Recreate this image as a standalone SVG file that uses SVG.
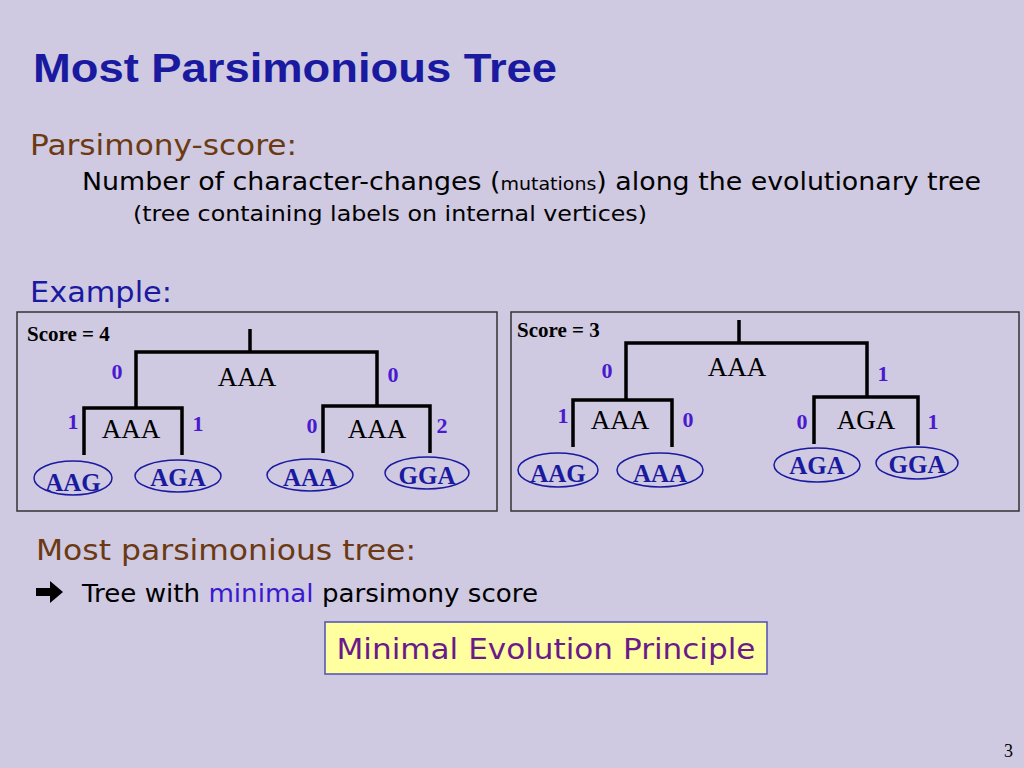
<svg xmlns="http://www.w3.org/2000/svg" width="1024" height="768" viewBox="0 0 1024 768">
<style>
.s{font-family:"DejaVu Sans","Liberation Sans",sans-serif}
.br{fill:#6b3a12;font-size:29px}
.e{fill:none;stroke:#1a1aa0;stroke-width:1.5}
.lf{font-family:"Liberation Serif",serif;font-weight:bold;font-size:25px;fill:#1a1aa0;text-anchor:middle}
.in{font-family:"Liberation Serif",serif;font-size:27px;fill:#000;text-anchor:middle}
.n{font-family:"Liberation Serif",serif;font-weight:bold;font-size:22px;fill:#4a1ad0;text-anchor:middle}
.t{fill:none;stroke:#000;stroke-width:3.5}
.bx{fill:none;stroke:#333;stroke-width:1.5}
</style>
<rect width="1024" height="768" fill="#cfc9e1"/>
<text x="33" y="82" font-family="Liberation Sans,sans-serif" font-weight="bold" font-size="40" fill="#1a1aa0" textLength="524" lengthAdjust="spacingAndGlyphs">Most Parsimonious Tree</text>
<text x="30" y="155" class="s br" textLength="267" lengthAdjust="spacingAndGlyphs">Parsimony-score:</text>
<text x="82" y="190" class="s" font-size="24" fill="#000" textLength="899" lengthAdjust="spacingAndGlyphs">Number of character-changes (<tspan font-size="17">mutations</tspan>) along the evolutionary tree</text>
<text x="133" y="221" class="s" font-size="21" fill="#000" textLength="514" lengthAdjust="spacingAndGlyphs">(tree containing labels on internal vertices)</text>
<text x="30" y="302" class="s" font-size="29" fill="#1a1aa0" textLength="142" lengthAdjust="spacingAndGlyphs">Example:</text>

<g id="tree1">
<rect x="17" y="312" width="480" height="199" class="bx"/>
<text x="27" y="341" font-family="Liberation Serif,serif" font-weight="bold" font-size="21">Score = 4</text>
<path class="t" d="M250 329V352M136 408V352H377V406M84 455V408H182V455M323 453V406H430V453"/>
<text x="117" y="379" class="n">0</text><text x="393" y="382" class="n">0</text>
<text x="73" y="429" class="n">1</text><text x="198" y="431" class="n">1</text>
<text x="312" y="433" class="n">0</text><text x="442" y="433" class="n">2</text>
<text x="247" y="386" class="in">AAA</text><text x="131" y="438" class="in">AAA</text><text x="377" y="438" class="in">AAA</text>
<ellipse cx="73" cy="478" rx="39" ry="17" class="e"/><text x="73" y="491" class="lf">AAG</text>
<ellipse cx="178" cy="476" rx="43" ry="16" class="e"/><text x="178" y="486" class="lf">AGA</text>
<ellipse cx="310" cy="475" rx="43" ry="16" class="e"/><text x="310" y="486" class="lf">AAA</text>
<ellipse cx="427" cy="473" rx="42" ry="16" class="e"/><text x="427" y="484" class="lf">GGA</text>
</g>

<g id="tree2">
<rect x="511" y="312" width="508" height="199" class="bx"/>
<text x="517" y="337" font-family="Liberation Serif,serif" font-weight="bold" font-size="21">Score = 3</text>
<path class="t" d="M739 320V343M626 400V343H867V397M573 447V400H672V447M814 444V397H918V445"/>
<text x="607" y="378" class="n">0</text><text x="883" y="381" class="n">1</text>
<text x="563" y="423" class="n">1</text><text x="688" y="427" class="n">0</text>
<text x="802" y="429" class="n">0</text><text x="933" y="429" class="n">1</text>
<text x="737" y="376" class="in">AAA</text><text x="620" y="429" class="in">AAA</text><text x="866" y="429" class="in">AGA</text>
<ellipse cx="558" cy="470" rx="40" ry="17" class="e"/><text x="558" y="482" class="lf">AAG</text>
<ellipse cx="660" cy="470" rx="43" ry="17" class="e"/><text x="660" y="482" class="lf">AAA</text>
<ellipse cx="817" cy="465" rx="43" ry="17" class="e"/><text x="817" y="474" class="lf">AGA</text>
<ellipse cx="917" cy="463" rx="41" ry="16" class="e"/><text x="917" y="473" class="lf">GGA</text>
</g>

<text x="36" y="560" class="s br" textLength="380" lengthAdjust="spacingAndGlyphs">Most parsimonious tree:</text>
<path d="M36 588h14v-7l13 11-13 11v-7h-14z" fill="#000"/>
<text x="82" y="602" class="s" font-size="24" fill="#000" textLength="456" lengthAdjust="spacingAndGlyphs">Tree with <tspan fill="#3a1ad0">minimal</tspan> parsimony score</text>
<g id="principle">
<rect x="325" y="622" width="442" height="52" fill="#ffffa0" stroke="#5050b0" stroke-width="1.5"/>
<text x="546" y="659" class="s" font-size="29" fill="#6a1a8a" text-anchor="middle" textLength="419" lengthAdjust="spacingAndGlyphs">Minimal Evolution Principle</text>
</g>
<text x="1013" y="757" font-family="Liberation Serif,serif" font-size="18" text-anchor="end">3</text>
</svg>
